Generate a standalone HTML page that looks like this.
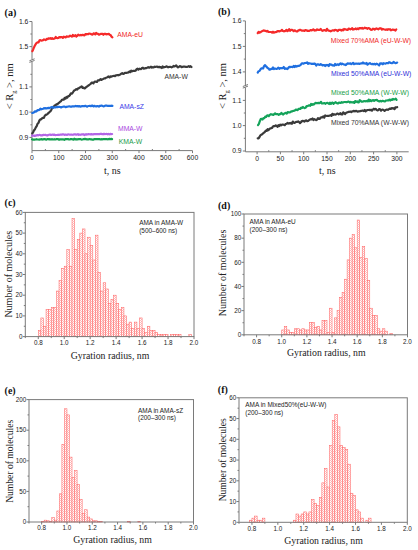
<!DOCTYPE html>
<html><head><meta charset="utf-8"><style>
html,body{margin:0;padding:0;background:#fff;width:418px;height:550px;overflow:hidden}
svg{display:block}
</style></head><body>
<svg width="418" height="550" viewBox="0 0 418 550">
<defs><pattern id="hp" patternUnits="userSpaceOnUse" width="2" height="2"><rect width="2" height="2" fill="#fff"/><rect width="1" height="1" fill="#fbb"/><rect x="1" y="1" width="1" height="1" fill="#fbb"/></pattern></defs>
<rect width="418" height="550" fill="#fff"/>
<text x="4.6" y="15.6" font-size="10" text-anchor="start" fill="#111" font-family='"Liberation Serif", serif' font-weight="bold" >(a)</text>
<line x1="32" y1="21.5" x2="32" y2="150.6" stroke="#7a7a7a" stroke-width="1.0"/>
<line x1="32" y1="150.6" x2="192.5" y2="150.6" stroke="#7a7a7a" stroke-width="1.0"/>
<rect x="29" y="59.4" width="6" height="2.4" fill="#fff"/>
<line x1="29.4" y1="60.8" x2="34.6" y2="58.8" stroke="#555" stroke-width="0.8"/>
<line x1="29.4" y1="62.4" x2="34.6" y2="60.4" stroke="#555" stroke-width="0.8"/>
<line x1="29.4" y1="21.5" x2="32" y2="21.5" stroke="#7a7a7a" stroke-width="1.0"/>
<text x="28.4" y="23.9" font-size="6.8" text-anchor="end" fill="#222" font-family='"Liberation Sans", sans-serif' font-weight="normal" >1.6</text>
<line x1="29.4" y1="46.6" x2="32" y2="46.6" stroke="#7a7a7a" stroke-width="1.0"/>
<text x="28.4" y="49" font-size="6.8" text-anchor="end" fill="#222" font-family='"Liberation Sans", sans-serif' font-weight="normal" >1.5</text>
<line x1="29.4" y1="86.9" x2="32" y2="86.9" stroke="#7a7a7a" stroke-width="1.0"/>
<text x="28.4" y="89.3" font-size="6.8" text-anchor="end" fill="#222" font-family='"Liberation Sans", sans-serif' font-weight="normal" >1.1</text>
<line x1="29.4" y1="112.1" x2="32" y2="112.1" stroke="#7a7a7a" stroke-width="1.0"/>
<text x="28.4" y="114.5" font-size="6.8" text-anchor="end" fill="#222" font-family='"Liberation Sans", sans-serif' font-weight="normal" >1.0</text>
<line x1="29.4" y1="137.4" x2="32" y2="137.4" stroke="#7a7a7a" stroke-width="1.0"/>
<text x="28.4" y="139.8" font-size="6.8" text-anchor="end" fill="#222" font-family='"Liberation Sans", sans-serif' font-weight="normal" >0.9</text>
<line x1="30.4" y1="34" x2="32" y2="34" stroke="#7a7a7a" stroke-width="1.0"/>
<line x1="30.4" y1="74.3" x2="32" y2="74.3" stroke="#7a7a7a" stroke-width="1.0"/>
<line x1="30.4" y1="99.5" x2="32" y2="99.5" stroke="#7a7a7a" stroke-width="1.0"/>
<line x1="30.4" y1="124.8" x2="32" y2="124.8" stroke="#7a7a7a" stroke-width="1.0"/>
<line x1="32" y1="150.6" x2="32" y2="153.1" stroke="#7a7a7a" stroke-width="1.0"/>
<text x="32" y="159.8" font-size="6.8" text-anchor="middle" fill="#222" font-family='"Liberation Sans", sans-serif' font-weight="normal" >0</text>
<line x1="58.75" y1="150.6" x2="58.75" y2="153.1" stroke="#7a7a7a" stroke-width="1.0"/>
<text x="58.75" y="159.8" font-size="6.8" text-anchor="middle" fill="#222" font-family='"Liberation Sans", sans-serif' font-weight="normal" >100</text>
<line x1="85.5" y1="150.6" x2="85.5" y2="153.1" stroke="#7a7a7a" stroke-width="1.0"/>
<text x="85.5" y="159.8" font-size="6.8" text-anchor="middle" fill="#222" font-family='"Liberation Sans", sans-serif' font-weight="normal" >200</text>
<line x1="112.25" y1="150.6" x2="112.25" y2="153.1" stroke="#7a7a7a" stroke-width="1.0"/>
<text x="112.25" y="159.8" font-size="6.8" text-anchor="middle" fill="#222" font-family='"Liberation Sans", sans-serif' font-weight="normal" >300</text>
<line x1="139" y1="150.6" x2="139" y2="153.1" stroke="#7a7a7a" stroke-width="1.0"/>
<text x="139" y="159.8" font-size="6.8" text-anchor="middle" fill="#222" font-family='"Liberation Sans", sans-serif' font-weight="normal" >400</text>
<line x1="165.75" y1="150.6" x2="165.75" y2="153.1" stroke="#7a7a7a" stroke-width="1.0"/>
<text x="165.75" y="159.8" font-size="6.8" text-anchor="middle" fill="#222" font-family='"Liberation Sans", sans-serif' font-weight="normal" >500</text>
<line x1="192.5" y1="150.6" x2="192.5" y2="153.1" stroke="#7a7a7a" stroke-width="1.0"/>
<text x="192.5" y="159.8" font-size="6.8" text-anchor="middle" fill="#222" font-family='"Liberation Sans", sans-serif' font-weight="normal" >600</text>
<line x1="45.38" y1="150.6" x2="45.38" y2="149" stroke="#7a7a7a" stroke-width="1.0"/>
<line x1="72.12" y1="150.6" x2="72.12" y2="149" stroke="#7a7a7a" stroke-width="1.0"/>
<line x1="98.88" y1="150.6" x2="98.88" y2="149" stroke="#7a7a7a" stroke-width="1.0"/>
<line x1="125.62" y1="150.6" x2="125.62" y2="149" stroke="#7a7a7a" stroke-width="1.0"/>
<line x1="152.38" y1="150.6" x2="152.38" y2="149" stroke="#7a7a7a" stroke-width="1.0"/>
<line x1="179.12" y1="150.6" x2="179.12" y2="149" stroke="#7a7a7a" stroke-width="1.0"/>
<text x="112.3" y="173.6" font-size="10" text-anchor="middle" fill="#222" font-family='"Liberation Serif", serif' font-weight="normal" >t, ns</text>
<text transform="translate(13.4,86.3) rotate(-90)" font-size="10.5" text-anchor="middle" fill="#222" font-family='"Liberation Serif", serif'>&lt; R<tspan font-size="6.5" dy="2.5">g</tspan><tspan dy="-2.5"> &gt;, nm</tspan></text>
<path d="M32.3,51.2 33.2,49.4 34.1,47.2 35.0,45.3 35.9,43.9 36.8,42.7 37.7,42.4 38.6,42.3 39.5,40.4 40.4,40.1 41.3,40.6 42.2,40.4 43.1,40.1 44.0,39.4 44.9,39.8 45.8,40.1 46.7,38.9 47.6,39.2 48.5,38.3 49.4,38.6 50.3,38.1 51.2,38.9 52.1,38.2 53.0,38.9 53.9,38.7 54.8,38.4 55.7,37.0 56.6,37.9 57.5,38.1 58.4,38.0 59.3,37.0 60.2,37.4 61.1,37.0 62.0,37.0 62.9,37.9 63.8,36.7 64.7,37.0 65.6,37.4 66.5,36.4 67.4,36.6 68.3,36.6 69.2,36.4 70.1,35.6 71.0,36.1 71.9,36.7 72.8,35.0 73.7,36.2 74.6,35.7 75.5,35.2 76.4,36.5 77.3,35.8 78.2,34.6 79.1,35.2 80.0,35.4 80.9,34.9 81.8,35.3 82.7,34.8 83.6,35.1 84.5,35.4 85.4,34.1 86.3,34.5 87.2,34.1 88.1,34.3 89.0,33.5 89.9,33.7 90.8,33.9 91.7,34.5 92.6,34.6 93.5,33.3 94.4,33.6 95.3,34.4 96.2,32.9 97.1,33.7 98.0,33.9 98.9,34.7 99.8,34.4 100.7,33.8 101.6,33.8 102.5,33.9 103.4,34.8 104.3,33.8 105.2,33.8 106.1,34.3 107.0,34.2 107.9,34.2 108.8,33.9 109.7,34.8 110.6,35.1 111.5,36.6 112.4,37.3" fill="none" stroke="#f52a2a" stroke-width="2.2" stroke-linejoin="round" stroke-linecap="round"/>
<path d="M32.2,133.5 33.1,132.3 34.0,130.3 34.9,129.4 35.8,127.4 36.7,126.1 37.6,123.7 38.5,122.9 39.4,120.5 40.3,119.3 41.2,119.3 42.1,118.2 43.0,117.8 43.9,117.9 44.8,115.7 45.7,114.9 46.6,114.6 47.5,114.1 48.4,113.1 49.3,112.3 50.2,111.5 51.1,110.3 52.0,108.4 52.9,107.7 53.8,106.6 54.7,105.4 55.6,105.4 56.5,104.2 57.4,104.4 58.3,103.3 59.2,102.6 60.1,101.7 61.0,101.3 61.9,99.8 62.8,99.6 63.7,99.7 64.6,98.0 65.5,98.7 66.4,97.0 67.3,97.5 68.2,96.2 69.1,96.2 70.0,95.0 70.9,93.3 71.8,93.7 72.7,92.8 73.6,91.3 74.5,90.3 75.4,89.9 76.3,89.1 77.2,89.6 78.1,88.4 79.0,88.1 79.9,87.4 80.8,87.0 81.7,86.4 82.6,87.9 83.5,87.6 84.4,88.4 85.3,88.1 86.2,87.1 87.1,86.5 88.0,85.8 88.9,85.3 89.8,84.5 90.7,83.8 91.6,82.7 92.5,82.6 93.4,83.4 94.3,82.0 95.2,81.5 96.1,81.8 97.0,81.9 97.9,80.3 98.8,80.5 99.7,80.0 100.6,79.1 101.5,79.9 102.4,79.3 103.3,79.0 104.2,78.3 105.1,78.5 106.0,77.7 106.9,77.5 107.8,76.8 108.7,76.4 109.6,77.4 110.5,76.4 111.4,76.6 112.3,76.3 113.2,76.0 114.1,75.8 115.0,76.1 115.9,75.4 116.8,75.2 117.7,75.1 118.6,75.3 119.5,74.8 120.4,74.4 121.3,73.7 122.2,73.1 123.1,73.9 124.0,73.6 124.9,72.9 125.8,72.9 126.7,72.8 127.6,72.6 128.5,72.4 129.4,71.5 130.3,72.1 131.2,70.6 132.1,71.3 133.0,70.9 133.9,70.8 134.8,71.0 135.7,70.6 136.6,69.2 137.5,68.7 138.4,69.6 139.3,68.7 140.2,69.0 141.1,69.2 142.0,68.0 142.9,67.7 143.8,68.6 144.7,68.4 145.6,68.1 146.5,68.1 147.4,67.6 148.3,67.2 149.2,67.7 150.1,67.2 151.0,66.7 151.9,67.6 152.8,67.2 153.7,67.4 154.6,66.7 155.5,66.9 156.4,66.7 157.3,66.7 158.2,67.2 159.1,66.8 160.0,67.3 160.9,67.2 161.8,68.0 162.7,66.4 163.6,67.4 164.5,67.0 165.4,67.0 166.3,66.3 167.2,66.8 168.1,67.3 169.0,66.9 169.9,67.0 170.8,66.8 171.7,67.4 172.6,66.9 173.5,65.9 174.4,66.5 175.3,66.0 176.2,65.4 177.1,66.6 178.0,67.4 178.9,66.8 179.8,66.2 180.7,66.3 181.6,67.2 182.5,66.8 183.4,66.7 184.3,66.6 185.2,66.7 186.1,67.0 187.0,66.8 187.9,66.7 188.8,66.1 189.7,66.8 190.6,66.2 191.5,67.0" fill="none" stroke="#3a3a3a" stroke-width="2.2" stroke-linejoin="round" stroke-linecap="round"/>
<path d="M32.3,113.0 33.2,112.8 34.1,112.3 35.0,111.3 35.9,111.6 36.8,111.0 37.7,110.0 38.6,110.2 39.5,109.8 40.4,108.7 41.3,109.3 42.2,109.0 43.1,108.8 44.0,108.2 44.9,108.3 45.8,108.2 46.7,108.5 47.6,108.1 48.5,107.9 49.4,108.2 50.3,107.5 51.2,107.4 52.1,106.9 53.0,107.8 53.9,107.5 54.8,107.4 55.7,107.3 56.6,107.1 57.5,107.1 58.4,106.9 59.3,106.9 60.2,107.0 61.1,107.4 62.0,107.0 62.9,106.8 63.8,106.6 64.7,106.6 65.6,107.2 66.5,106.8 67.4,106.7 68.3,106.5 69.2,106.3 70.1,106.5 71.0,106.8 71.9,106.4 72.8,106.4 73.7,106.4 74.6,106.4 75.5,105.9 76.4,106.3 77.3,106.0 78.2,106.5 79.1,106.0 80.0,106.4 80.9,106.6 81.8,106.1 82.7,106.0 83.6,106.2 84.5,106.1 85.4,105.8 86.3,106.3 87.2,106.7 88.1,106.0 89.0,106.0 89.9,105.8 90.8,106.2 91.7,105.7 92.6,105.7 93.5,106.4 94.4,105.8 95.3,106.3 96.2,106.5 97.1,106.1 98.0,106.1 98.9,106.6 99.8,105.9 100.7,105.8 101.6,105.5 102.5,105.9 103.4,106.4 104.3,106.2 105.2,105.6 106.1,105.6 107.0,105.7 107.9,105.9 108.8,105.8 109.7,105.9 110.6,105.9 111.5,105.7 112.4,105.8" fill="none" stroke="#1f6fe0" stroke-width="2.2" stroke-linejoin="round" stroke-linecap="round"/>
<path d="M32.0,135.6 32.9,135.5 33.8,135.6 34.7,135.9 35.6,135.6 36.5,135.4 37.4,135.0 38.3,135.4 39.2,134.9 40.1,135.0 41.0,135.4 41.9,135.4 42.8,135.1 43.7,134.8 44.6,135.0 45.5,134.9 46.4,135.2 47.3,135.5 48.2,135.0 49.1,134.8 50.0,134.6 50.9,134.9 51.8,134.8 52.7,134.6 53.6,134.9 54.5,134.6 55.4,135.1 56.3,135.0 57.2,135.0 58.1,134.7 59.0,134.9 59.9,134.7 60.8,134.7 61.7,134.7 62.6,134.4 63.5,134.4 64.4,134.9 65.3,134.6 66.2,134.7 67.1,134.9 68.0,134.3 68.9,134.5 69.8,134.7 70.7,134.7 71.6,134.5 72.5,134.8 73.4,134.6 74.3,134.3 75.2,134.3 76.1,134.7 77.0,134.6 77.9,134.1 78.8,134.8 79.7,134.6 80.6,134.8 81.5,134.4 82.4,134.4 83.3,134.2 84.2,135.0 85.1,134.4 86.0,134.7 86.9,134.2 87.8,134.4 88.7,134.0 89.6,134.2 90.5,134.5 91.4,134.0 92.3,134.5 93.2,134.4 94.1,134.0 95.0,134.1 95.9,134.1 96.8,134.2 97.7,134.1 98.6,134.0 99.5,134.1 100.4,133.9 101.3,133.9 102.2,134.1 103.1,134.3 104.0,133.8 104.9,134.1 105.8,134.0 106.7,133.9 107.6,134.3 108.5,133.9 109.4,134.4 110.3,133.9 111.2,134.1 112.1,134.0" fill="none" stroke="#b266e6" stroke-width="2.2" stroke-linejoin="round" stroke-linecap="round"/>
<path d="M32.0,139.3 32.9,139.6 33.8,139.5 34.7,139.6 35.6,139.5 36.5,139.2 37.4,139.5 38.3,139.5 39.2,139.7 40.1,139.3 41.0,139.5 41.9,139.1 42.8,139.6 43.7,139.2 44.6,139.1 45.5,139.4 46.4,139.7 47.3,139.1 48.2,139.2 49.1,139.3 50.0,139.2 50.9,139.5 51.8,139.2 52.7,139.3 53.6,139.5 54.5,139.2 55.4,139.5 56.3,139.2 57.2,139.1 58.1,139.0 59.0,139.8 59.9,139.3 60.8,139.4 61.7,139.4 62.6,139.4 63.5,139.4 64.4,139.8 65.3,139.1 66.2,139.0 67.1,139.1 68.0,139.1 68.9,139.5 69.8,139.5 70.7,139.1 71.6,139.0 72.5,139.3 73.4,139.7 74.3,138.7 75.2,139.5 76.1,139.1 77.0,139.6 77.9,139.1 78.8,139.3 79.7,139.0 80.6,139.1 81.5,139.6 82.4,139.5 83.3,139.2 84.2,139.1 85.1,138.9 86.0,139.2 86.9,139.3 87.8,139.3 88.7,139.3 89.6,139.0 90.5,139.3 91.4,139.3 92.3,139.6 93.2,139.7 94.1,139.2 95.0,139.1 95.9,139.2 96.8,139.1 97.7,139.1 98.6,139.2 99.5,139.0 100.4,139.4 101.3,139.2 102.2,139.3 103.1,139.2 104.0,139.1 104.9,139.0 105.8,139.2 106.7,139.1 107.6,139.3 108.5,139.2 109.4,138.9 110.3,139.2 111.2,138.9 112.1,139.1" fill="none" stroke="#14a050" stroke-width="2.2" stroke-linejoin="round" stroke-linecap="round"/>
<text x="117.3" y="36.6" font-size="6.8" text-anchor="start" fill="#f02828" font-family='"Liberation Sans", sans-serif' font-weight="normal" >AMA-eU</text>
<text x="164.4" y="78.9" font-size="6.8" text-anchor="start" fill="#333" font-family='"Liberation Sans", sans-serif' font-weight="normal" >AMA-W</text>
<text x="119.4" y="108.9" font-size="6.8" text-anchor="start" fill="#3a3ae8" font-family='"Liberation Sans", sans-serif' font-weight="normal" >AMA-sZ</text>
<text x="118" y="131.3" font-size="6.8" text-anchor="start" fill="#a848e0" font-family='"Liberation Sans", sans-serif' font-weight="normal" >MMA-W</text>
<text x="118.7" y="143.9" font-size="6.8" text-anchor="start" fill="#1a9a48" font-family='"Liberation Sans", sans-serif' font-weight="normal" >KMA-W</text>
<text x="218" y="15.2" font-size="10" text-anchor="start" fill="#111" font-family='"Liberation Serif", serif' font-weight="bold" >(b)</text>
<line x1="245.4" y1="20.9" x2="245.4" y2="151.8" stroke="#7a7a7a" stroke-width="1.0"/>
<line x1="245.4" y1="151.8" x2="408.7" y2="151.8" stroke="#7a7a7a" stroke-width="1.0"/>
<rect x="242.4" y="85.1" width="6" height="2.4" fill="#fff"/>
<line x1="242.8" y1="86.5" x2="248" y2="84.5" stroke="#555" stroke-width="0.8"/>
<line x1="242.8" y1="88.1" x2="248" y2="86.1" stroke="#555" stroke-width="0.8"/>
<line x1="242.8" y1="20.9" x2="245.4" y2="20.9" stroke="#7a7a7a" stroke-width="1.0"/>
<text x="241.6" y="23.3" font-size="6.8" text-anchor="end" fill="#222" font-family='"Liberation Sans", sans-serif' font-weight="normal" >1.6</text>
<line x1="242.8" y1="46.4" x2="245.4" y2="46.4" stroke="#7a7a7a" stroke-width="1.0"/>
<text x="241.6" y="48.8" font-size="6.8" text-anchor="end" fill="#222" font-family='"Liberation Sans", sans-serif' font-weight="normal" >1.5</text>
<line x1="242.8" y1="71.9" x2="245.4" y2="71.9" stroke="#7a7a7a" stroke-width="1.0"/>
<text x="241.6" y="74.3" font-size="6.8" text-anchor="end" fill="#222" font-family='"Liberation Sans", sans-serif' font-weight="normal" >1.4</text>
<line x1="242.8" y1="100.4" x2="245.4" y2="100.4" stroke="#7a7a7a" stroke-width="1.0"/>
<text x="241.6" y="102.8" font-size="6.8" text-anchor="end" fill="#222" font-family='"Liberation Sans", sans-serif' font-weight="normal" >1.1</text>
<line x1="242.8" y1="125.6" x2="245.4" y2="125.6" stroke="#7a7a7a" stroke-width="1.0"/>
<text x="241.6" y="128" font-size="6.8" text-anchor="end" fill="#222" font-family='"Liberation Sans", sans-serif' font-weight="normal" >1.0</text>
<line x1="242.8" y1="151" x2="245.4" y2="151" stroke="#7a7a7a" stroke-width="1.0"/>
<text x="241.6" y="153.4" font-size="6.8" text-anchor="end" fill="#222" font-family='"Liberation Sans", sans-serif' font-weight="normal" >0.9</text>
<line x1="243.8" y1="33.6" x2="245.4" y2="33.6" stroke="#7a7a7a" stroke-width="1.0"/>
<line x1="243.8" y1="59.1" x2="245.4" y2="59.1" stroke="#7a7a7a" stroke-width="1.0"/>
<line x1="243.8" y1="113" x2="245.4" y2="113" stroke="#7a7a7a" stroke-width="1.0"/>
<line x1="243.8" y1="138.3" x2="245.4" y2="138.3" stroke="#7a7a7a" stroke-width="1.0"/>
<line x1="257.1" y1="151.8" x2="257.1" y2="154.3" stroke="#7a7a7a" stroke-width="1.0"/>
<text x="257.1" y="160.9" font-size="6.8" text-anchor="middle" fill="#222" font-family='"Liberation Sans", sans-serif' font-weight="normal" >0</text>
<line x1="280.4" y1="151.8" x2="280.4" y2="154.3" stroke="#7a7a7a" stroke-width="1.0"/>
<text x="280.4" y="160.9" font-size="6.8" text-anchor="middle" fill="#222" font-family='"Liberation Sans", sans-serif' font-weight="normal" >50</text>
<line x1="303.7" y1="151.8" x2="303.7" y2="154.3" stroke="#7a7a7a" stroke-width="1.0"/>
<text x="303.7" y="160.9" font-size="6.8" text-anchor="middle" fill="#222" font-family='"Liberation Sans", sans-serif' font-weight="normal" >100</text>
<line x1="327" y1="151.8" x2="327" y2="154.3" stroke="#7a7a7a" stroke-width="1.0"/>
<text x="327" y="160.9" font-size="6.8" text-anchor="middle" fill="#222" font-family='"Liberation Sans", sans-serif' font-weight="normal" >150</text>
<line x1="350.3" y1="151.8" x2="350.3" y2="154.3" stroke="#7a7a7a" stroke-width="1.0"/>
<text x="350.3" y="160.9" font-size="6.8" text-anchor="middle" fill="#222" font-family='"Liberation Sans", sans-serif' font-weight="normal" >200</text>
<line x1="373.6" y1="151.8" x2="373.6" y2="154.3" stroke="#7a7a7a" stroke-width="1.0"/>
<text x="373.6" y="160.9" font-size="6.8" text-anchor="middle" fill="#222" font-family='"Liberation Sans", sans-serif' font-weight="normal" >250</text>
<line x1="396.9" y1="151.8" x2="396.9" y2="154.3" stroke="#7a7a7a" stroke-width="1.0"/>
<text x="396.9" y="160.9" font-size="6.8" text-anchor="middle" fill="#222" font-family='"Liberation Sans", sans-serif' font-weight="normal" >300</text>
<line x1="268.75" y1="151.8" x2="268.75" y2="150.2" stroke="#7a7a7a" stroke-width="1.0"/>
<line x1="292.05" y1="151.8" x2="292.05" y2="150.2" stroke="#7a7a7a" stroke-width="1.0"/>
<line x1="315.35" y1="151.8" x2="315.35" y2="150.2" stroke="#7a7a7a" stroke-width="1.0"/>
<line x1="338.65" y1="151.8" x2="338.65" y2="150.2" stroke="#7a7a7a" stroke-width="1.0"/>
<line x1="361.95" y1="151.8" x2="361.95" y2="150.2" stroke="#7a7a7a" stroke-width="1.0"/>
<line x1="385.25" y1="151.8" x2="385.25" y2="150.2" stroke="#7a7a7a" stroke-width="1.0"/>
<text x="327.3" y="174.4" font-size="10" text-anchor="middle" fill="#222" font-family='"Liberation Serif", serif' font-weight="normal" >t, ns</text>
<text transform="translate(226.3,86.0) rotate(-90)" font-size="10.5" text-anchor="middle" fill="#222" font-family='"Liberation Serif", serif'>&lt; R<tspan font-size="6.5" dy="2.5">g</tspan><tspan dy="-2.5"> &gt;, nm</tspan></text>
<path d="M257.7,33.2 258.6,31.8 259.5,32.6 260.4,32.3 261.3,31.7 262.2,31.1 263.1,30.7 264.0,30.4 264.9,30.9 265.8,30.9 266.7,31.5 267.6,30.9 268.5,31.9 269.4,32.0 270.3,32.0 271.2,32.0 272.1,32.7 273.0,31.7 273.9,32.6 274.8,32.3 275.7,32.1 276.6,31.9 277.5,31.1 278.4,31.1 279.3,31.4 280.2,31.0 281.1,30.8 282.0,29.9 282.9,31.0 283.8,31.3 284.7,31.2 285.6,30.8 286.5,29.8 287.4,31.1 288.3,30.5 289.2,29.2 290.1,30.8 291.0,29.8 291.9,29.9 292.8,30.2 293.7,31.2 294.6,30.3 295.5,30.7 296.4,31.5 297.3,31.4 298.2,30.4 299.1,30.3 300.0,29.8 300.9,30.1 301.8,30.7 302.7,30.6 303.6,30.5 304.5,30.9 305.4,30.0 306.3,30.3 307.2,30.8 308.1,30.7 309.0,30.9 309.9,30.5 310.8,30.1 311.7,30.5 312.6,29.7 313.5,29.4 314.4,30.6 315.3,30.2 316.2,30.4 317.1,29.3 318.0,30.0 318.9,29.9 319.8,29.8 320.7,29.0 321.6,30.1 322.5,30.8 323.4,30.5 324.3,30.0 325.2,30.3 326.1,30.8 327.0,28.8 327.9,30.3 328.8,30.7 329.7,30.8 330.6,31.3 331.5,30.9 332.4,30.4 333.3,30.3 334.2,30.6 335.1,29.8 336.0,30.0 336.9,30.5 337.8,31.0 338.7,29.8 339.6,29.8 340.5,29.9 341.4,30.5 342.3,29.7 343.2,30.4 344.1,29.0 345.0,29.4 345.9,29.4 346.8,29.9 347.7,30.0 348.6,28.5 349.5,28.8 350.4,29.4 351.3,28.8 352.2,28.2 353.1,29.6 354.0,29.2 354.9,29.1 355.8,28.5 356.7,29.3 357.6,28.5 358.5,29.2 359.4,28.0 360.3,28.0 361.2,28.5 362.1,27.9 363.0,28.6 363.9,28.3 364.8,27.6 365.7,28.2 366.6,28.1 367.5,28.8 368.4,28.0 369.3,28.2 370.2,29.2 371.1,29.8 372.0,29.7 372.9,28.7 373.8,28.9 374.7,29.6 375.6,28.8 376.5,28.4 377.4,29.0 378.3,29.3 379.2,28.6 380.1,28.2 381.0,28.4 381.9,29.6 382.8,28.9 383.7,29.3 384.6,29.5 385.5,29.8 386.4,29.4 387.3,29.9 388.2,29.2 389.1,29.5 390.0,29.2 390.9,30.4 391.8,29.9 392.7,29.5 393.6,29.8 394.5,29.9 395.4,30.5 396.3,29.3" fill="none" stroke="#f52a2a" stroke-width="2.2" stroke-linejoin="round" stroke-linecap="round"/>
<path d="M257.7,72.6 258.6,71.2 259.5,71.0 260.4,69.5 261.3,68.4 262.2,68.3 263.1,68.5 264.0,66.2 264.9,65.1 265.8,66.1 266.7,66.9 267.6,68.2 268.5,68.3 269.4,69.7 270.3,69.5 271.2,68.9 272.1,69.0 273.0,67.5 273.9,69.0 274.8,68.5 275.7,68.8 276.6,69.0 277.5,68.4 278.4,67.7 279.3,68.8 280.2,68.1 281.1,68.3 282.0,68.1 282.9,68.1 283.8,67.0 284.7,68.9 285.6,68.3 286.5,68.7 287.4,69.1 288.3,68.0 289.2,66.8 290.1,67.2 291.0,66.8 291.9,67.0 292.8,67.2 293.7,65.9 294.6,67.0 295.5,65.8 296.4,66.6 297.3,66.2 298.2,65.9 299.1,65.9 300.0,65.3 300.9,64.6 301.8,63.3 302.7,63.4 303.6,63.7 304.5,63.1 305.4,63.0 306.3,62.9 307.2,62.4 308.1,63.8 309.0,63.2 309.9,63.4 310.8,63.5 311.7,63.9 312.6,63.7 313.5,64.0 314.4,63.5 315.3,64.0 316.2,65.5 317.1,64.3 318.0,64.3 318.9,64.8 319.8,65.0 320.7,64.1 321.6,64.7 322.5,65.4 323.4,65.1 324.3,65.1 325.2,66.0 326.1,64.9 327.0,65.3 327.9,64.9 328.8,66.0 329.7,64.1 330.6,64.7 331.5,64.7 332.4,65.4 333.3,65.3 334.2,65.7 335.1,64.0 336.0,65.2 336.9,64.6 337.8,64.3 338.7,65.0 339.6,64.1 340.5,63.4 341.4,64.3 342.3,63.6 343.2,64.1 344.1,64.6 345.0,64.5 345.9,65.1 346.8,64.1 347.7,63.3 348.6,63.7 349.5,63.6 350.4,63.4 351.3,64.2 352.2,63.6 353.1,62.8 354.0,64.2 354.9,63.6 355.8,63.8 356.7,63.6 357.6,63.8 358.5,63.5 359.4,64.0 360.3,63.5 361.2,63.4 362.1,63.5 363.0,62.5 363.9,63.4 364.8,63.4 365.7,63.7 366.6,63.0 367.5,64.7 368.4,64.0 369.3,63.3 370.2,63.2 371.1,64.0 372.0,64.2 372.9,63.9 373.8,64.3 374.7,63.8 375.6,64.5 376.5,63.7 377.4,64.1 378.3,64.6 379.2,65.4 380.1,63.4 381.0,63.7 381.9,63.4 382.8,64.3 383.7,63.2 384.6,63.5 385.5,63.7 386.4,63.1 387.3,63.0 388.2,63.2 389.1,62.2 390.0,62.5 390.9,63.0 391.8,63.2 392.7,62.9 393.6,62.0 394.5,62.6 395.4,63.2 396.3,63.0 397.2,62.6" fill="none" stroke="#1f6fe0" stroke-width="2.2" stroke-linejoin="round" stroke-linecap="round"/>
<path d="M258.0,125.1 258.9,123.9 259.8,121.2 260.7,119.1 261.6,118.8 262.5,119.5 263.4,118.2 264.3,118.2 265.2,116.7 266.1,117.0 267.0,115.6 267.9,115.3 268.8,116.2 269.7,115.0 270.6,114.2 271.5,114.4 272.4,114.6 273.3,115.0 274.2,114.1 275.1,113.3 276.0,114.1 276.9,114.2 277.8,114.2 278.7,114.8 279.6,114.1 280.5,114.2 281.4,113.0 282.3,113.9 283.2,114.5 284.1,113.6 285.0,113.1 285.9,112.9 286.8,113.6 287.7,112.0 288.6,112.3 289.5,112.3 290.4,112.2 291.3,111.3 292.2,111.4 293.1,110.8 294.0,110.8 294.9,110.4 295.8,109.6 296.7,109.9 297.6,110.1 298.5,108.8 299.4,108.8 300.3,109.0 301.2,107.7 302.1,108.0 303.0,107.0 303.9,107.8 304.8,108.1 305.7,107.6 306.6,106.0 307.5,106.2 308.4,105.6 309.3,105.3 310.2,105.8 311.1,103.9 312.0,104.9 312.9,104.1 313.8,104.6 314.7,103.6 315.6,102.9 316.5,103.1 317.4,103.2 318.3,102.9 319.2,103.2 320.1,102.7 321.0,101.8 321.9,103.5 322.8,103.5 323.7,103.2 324.6,103.2 325.5,103.8 326.4,103.0 327.3,102.9 328.2,103.2 329.1,104.0 330.0,102.6 330.9,103.9 331.8,102.9 332.7,102.6 333.6,103.8 334.5,103.0 335.4,102.2 336.3,102.7 337.2,103.3 338.1,103.4 339.0,102.5 339.9,102.8 340.8,102.9 341.7,102.1 342.6,102.6 343.5,102.3 344.4,102.0 345.3,102.0 346.2,102.2 347.1,102.1 348.0,101.7 348.9,101.7 349.8,102.5 350.7,101.9 351.6,102.3 352.5,102.4 353.4,102.0 354.3,102.9 355.2,101.1 356.1,102.0 357.0,101.3 357.9,102.4 358.8,102.3 359.7,100.2 360.6,100.7 361.5,101.6 362.4,101.6 363.3,101.5 364.2,101.0 365.1,101.2 366.0,101.3 366.9,100.9 367.8,101.4 368.7,99.6 369.6,101.1 370.5,100.1 371.4,101.2 372.3,100.5 373.2,100.1 374.1,100.9 375.0,100.2 375.9,100.2 376.8,99.9 377.7,100.8 378.6,101.1 379.5,101.4 380.4,100.8 381.3,101.5 382.2,100.9 383.1,100.9 384.0,101.3 384.9,101.5 385.8,100.6 386.7,100.5 387.6,100.4 388.5,100.3 389.4,99.6 390.3,100.5 391.2,99.6 392.1,99.9 393.0,99.0 393.9,99.5 394.8,99.3 395.7,98.7 396.6,99.9" fill="none" stroke="#14a35a" stroke-width="2.2" stroke-linejoin="round" stroke-linecap="round"/>
<path d="M257.7,138.3 258.6,138.3 259.5,137.0 260.4,135.3 261.3,134.7 262.2,134.3 263.1,133.3 264.0,132.7 264.9,131.9 265.8,130.6 266.7,130.9 267.6,129.2 268.5,130.1 269.4,129.0 270.3,128.4 271.2,128.2 272.1,127.9 273.0,126.4 273.9,126.0 274.8,126.2 275.7,125.4 276.6,125.8 277.5,126.9 278.4,125.2 279.3,126.0 280.2,124.6 281.1,125.3 282.0,124.7 282.9,124.6 283.8,124.8 284.7,125.2 285.6,124.1 286.5,123.8 287.4,123.0 288.3,123.6 289.2,123.1 290.1,123.5 291.0,122.9 291.9,123.8 292.8,121.6 293.7,122.5 294.6,123.0 295.5,122.2 296.4,121.8 297.3,122.0 298.2,121.3 299.1,122.0 300.0,123.2 300.9,122.3 301.8,121.0 302.7,120.9 303.6,121.1 304.5,121.7 305.4,120.5 306.3,120.4 307.2,121.2 308.1,121.0 309.0,120.2 309.9,119.6 310.8,119.2 311.7,119.5 312.6,118.5 313.5,120.0 314.4,119.1 315.3,119.6 316.2,120.2 317.1,119.6 318.0,118.1 318.9,118.9 319.8,118.8 320.7,117.5 321.6,117.2 322.5,117.4 323.4,116.3 324.3,117.7 325.2,115.4 326.1,115.8 327.0,116.0 327.9,115.8 328.8,115.8 329.7,115.6 330.6,115.2 331.5,115.8 332.4,113.8 333.3,114.8 334.2,114.3 335.1,114.6 336.0,114.5 336.9,113.7 337.8,113.7 338.7,114.3 339.6,113.9 340.5,113.2 341.4,114.5 342.3,114.5 343.2,112.3 344.1,113.1 345.0,114.1 345.9,113.0 346.8,112.6 347.7,112.2 348.6,111.8 349.5,111.8 350.4,111.5 351.3,112.1 352.2,111.4 353.1,111.3 354.0,110.8 354.9,111.4 355.8,110.8 356.7,111.1 357.6,111.7 358.5,111.3 359.4,111.3 360.3,111.1 361.2,110.9 362.1,110.7 363.0,110.6 363.9,111.1 364.8,110.0 365.7,111.3 366.6,110.5 367.5,110.0 368.4,110.0 369.3,109.9 370.2,110.2 371.1,109.7 372.0,110.6 372.9,109.5 373.8,108.7 374.7,109.5 375.6,108.8 376.5,109.8 377.4,110.4 378.3,110.1 379.2,109.0 380.1,109.3 381.0,110.7 381.9,109.8 382.8,109.6 383.7,110.2 384.6,110.9 385.5,110.2 386.4,109.6 387.3,109.7 388.2,109.8 389.1,109.0 390.0,108.6 390.9,108.9 391.8,108.1 392.7,108.4 393.6,108.2 394.5,109.2 395.4,107.3 396.3,107.4 397.2,107.2" fill="none" stroke="#3a3a3a" stroke-width="2.2" stroke-linejoin="round" stroke-linecap="round"/>
<text x="330.8" y="43.4" font-size="6.8" text-anchor="start" fill="#f02828" font-family='"Liberation Sans", sans-serif' font-weight="normal" >Mixed 70%AMA (eU-W-W)</text>
<text x="331" y="75.9" font-size="6.8" text-anchor="start" fill="#3030d8" font-family='"Liberation Sans", sans-serif' font-weight="normal" >Mixed 50%AMA (eU-W-W)</text>
<text x="331" y="95" font-size="6.8" text-anchor="start" fill="#18a048" font-family='"Liberation Sans", sans-serif' font-weight="normal" >Mixed 50%AMA (W-W-W)</text>
<text x="331" y="124.5" font-size="6.8" text-anchor="start" fill="#333" font-family='"Liberation Sans", sans-serif' font-weight="normal" >Mixed 70%AMA (W-W-W)</text>
<rect x="38.28" y="330.39" width="2.6" height="6.21" fill="url(#hp)" stroke="#f66" stroke-width="0.55"/>
<rect x="40.87" y="317.97" width="2.6" height="18.63" fill="url(#hp)" stroke="#f66" stroke-width="0.55"/>
<rect x="43.47" y="326.25" width="2.6" height="10.35" fill="url(#hp)" stroke="#f66" stroke-width="0.55"/>
<rect x="46.06" y="309.69" width="2.6" height="26.91" fill="url(#hp)" stroke="#f66" stroke-width="0.55"/>
<rect x="48.66" y="309.69" width="2.6" height="26.91" fill="url(#hp)" stroke="#f66" stroke-width="0.55"/>
<rect x="51.25" y="307.62" width="2.6" height="28.98" fill="url(#hp)" stroke="#f66" stroke-width="0.55"/>
<rect x="53.85" y="307.62" width="2.6" height="28.98" fill="url(#hp)" stroke="#f66" stroke-width="0.55"/>
<rect x="56.44" y="291.06" width="2.6" height="45.54" fill="url(#hp)" stroke="#f66" stroke-width="0.55"/>
<rect x="59.04" y="280.71" width="2.6" height="55.89" fill="url(#hp)" stroke="#f66" stroke-width="0.55"/>
<rect x="61.64" y="268.29" width="2.6" height="68.31" fill="url(#hp)" stroke="#f66" stroke-width="0.55"/>
<rect x="64.23" y="266.22" width="2.6" height="70.38" fill="url(#hp)" stroke="#f66" stroke-width="0.55"/>
<rect x="66.83" y="249.66" width="2.6" height="86.94" fill="url(#hp)" stroke="#f66" stroke-width="0.55"/>
<rect x="69.42" y="266.22" width="2.6" height="70.38" fill="url(#hp)" stroke="#f66" stroke-width="0.55"/>
<rect x="72.02" y="218.61" width="2.6" height="117.99" fill="url(#hp)" stroke="#f66" stroke-width="0.55"/>
<rect x="74.61" y="249.66" width="2.6" height="86.94" fill="url(#hp)" stroke="#f66" stroke-width="0.55"/>
<rect x="77.21" y="239.31" width="2.6" height="97.29" fill="url(#hp)" stroke="#f66" stroke-width="0.55"/>
<rect x="79.8" y="233.1" width="2.6" height="103.5" fill="url(#hp)" stroke="#f66" stroke-width="0.55"/>
<rect x="82.4" y="228.96" width="2.6" height="107.64" fill="url(#hp)" stroke="#f66" stroke-width="0.55"/>
<rect x="84.99" y="253.8" width="2.6" height="82.8" fill="url(#hp)" stroke="#f66" stroke-width="0.55"/>
<rect x="87.59" y="237.24" width="2.6" height="99.36" fill="url(#hp)" stroke="#f66" stroke-width="0.55"/>
<rect x="90.18" y="245.52" width="2.6" height="91.08" fill="url(#hp)" stroke="#f66" stroke-width="0.55"/>
<rect x="92.78" y="260.01" width="2.6" height="76.59" fill="url(#hp)" stroke="#f66" stroke-width="0.55"/>
<rect x="95.38" y="235.17" width="2.6" height="101.43" fill="url(#hp)" stroke="#f66" stroke-width="0.55"/>
<rect x="97.97" y="272.43" width="2.6" height="64.17" fill="url(#hp)" stroke="#f66" stroke-width="0.55"/>
<rect x="100.57" y="291.06" width="2.6" height="45.54" fill="url(#hp)" stroke="#f66" stroke-width="0.55"/>
<rect x="103.16" y="282.78" width="2.6" height="53.82" fill="url(#hp)" stroke="#f66" stroke-width="0.55"/>
<rect x="105.76" y="288.99" width="2.6" height="47.61" fill="url(#hp)" stroke="#f66" stroke-width="0.55"/>
<rect x="108.35" y="303.48" width="2.6" height="33.12" fill="url(#hp)" stroke="#f66" stroke-width="0.55"/>
<rect x="110.95" y="299.34" width="2.6" height="37.26" fill="url(#hp)" stroke="#f66" stroke-width="0.55"/>
<rect x="113.54" y="295.2" width="2.6" height="41.4" fill="url(#hp)" stroke="#f66" stroke-width="0.55"/>
<rect x="116.14" y="303.48" width="2.6" height="33.12" fill="url(#hp)" stroke="#f66" stroke-width="0.55"/>
<rect x="118.73" y="309.69" width="2.6" height="26.91" fill="url(#hp)" stroke="#f66" stroke-width="0.55"/>
<rect x="121.33" y="307.62" width="2.6" height="28.98" fill="url(#hp)" stroke="#f66" stroke-width="0.55"/>
<rect x="123.92" y="315.9" width="2.6" height="20.7" fill="url(#hp)" stroke="#f66" stroke-width="0.55"/>
<rect x="126.52" y="324.18" width="2.6" height="12.42" fill="url(#hp)" stroke="#f66" stroke-width="0.55"/>
<rect x="129.12" y="322.11" width="2.6" height="14.49" fill="url(#hp)" stroke="#f66" stroke-width="0.55"/>
<rect x="131.71" y="328.32" width="2.6" height="8.28" fill="url(#hp)" stroke="#f66" stroke-width="0.55"/>
<rect x="134.31" y="322.11" width="2.6" height="14.49" fill="url(#hp)" stroke="#f66" stroke-width="0.55"/>
<rect x="136.9" y="328.32" width="2.6" height="8.28" fill="url(#hp)" stroke="#f66" stroke-width="0.55"/>
<rect x="139.5" y="317.97" width="2.6" height="18.63" fill="url(#hp)" stroke="#f66" stroke-width="0.55"/>
<rect x="142.09" y="328.32" width="2.6" height="8.28" fill="url(#hp)" stroke="#f66" stroke-width="0.55"/>
<rect x="144.69" y="332.46" width="2.6" height="4.14" fill="url(#hp)" stroke="#f66" stroke-width="0.55"/>
<rect x="147.28" y="326.25" width="2.6" height="10.35" fill="url(#hp)" stroke="#f66" stroke-width="0.55"/>
<rect x="149.88" y="330.39" width="2.6" height="6.21" fill="url(#hp)" stroke="#f66" stroke-width="0.55"/>
<rect x="152.47" y="330.39" width="2.6" height="6.21" fill="url(#hp)" stroke="#f66" stroke-width="0.55"/>
<rect x="155.07" y="332.46" width="2.6" height="4.14" fill="url(#hp)" stroke="#f66" stroke-width="0.55"/>
<rect x="157.66" y="334.53" width="2.6" height="2.07" fill="url(#hp)" stroke="#f66" stroke-width="0.55"/>
<rect x="160.26" y="334.53" width="2.6" height="2.07" fill="url(#hp)" stroke="#f66" stroke-width="0.55"/>
<rect x="162.86" y="334.53" width="2.6" height="2.07" fill="url(#hp)" stroke="#f66" stroke-width="0.55"/>
<rect x="165.45" y="334.53" width="2.6" height="2.07" fill="url(#hp)" stroke="#f66" stroke-width="0.55"/>
<rect x="170.64" y="334.53" width="2.6" height="2.07" fill="url(#hp)" stroke="#f66" stroke-width="0.55"/>
<rect x="173.24" y="334.53" width="2.6" height="2.07" fill="url(#hp)" stroke="#f66" stroke-width="0.55"/>
<rect x="175.83" y="334.53" width="2.6" height="2.07" fill="url(#hp)" stroke="#f66" stroke-width="0.55"/>
<rect x="178.43" y="334.53" width="2.6" height="2.07" fill="url(#hp)" stroke="#f66" stroke-width="0.55"/>
<rect x="188.81" y="334.53" width="2.6" height="2.07" fill="url(#hp)" stroke="#f66" stroke-width="0.55"/>
<rect x="25.3" y="212.4" width="168.7" height="124.2" fill="none" stroke="#7a7a7a" stroke-width="1"/>
<line x1="22.8" y1="336.6" x2="25.3" y2="336.6" stroke="#7a7a7a" stroke-width="1.0"/>
<text x="22.5" y="338.8" font-size="6.3" text-anchor="end" fill="#222" font-family='"Liberation Sans", sans-serif' font-weight="normal" >0</text>
<line x1="23.8" y1="326.25" x2="25.3" y2="326.25" stroke="#7a7a7a" stroke-width="1.0"/>
<line x1="22.8" y1="315.9" x2="25.3" y2="315.9" stroke="#7a7a7a" stroke-width="1.0"/>
<text x="22.5" y="318.1" font-size="6.3" text-anchor="end" fill="#222" font-family='"Liberation Sans", sans-serif' font-weight="normal" >10</text>
<line x1="23.8" y1="305.55" x2="25.3" y2="305.55" stroke="#7a7a7a" stroke-width="1.0"/>
<line x1="22.8" y1="295.2" x2="25.3" y2="295.2" stroke="#7a7a7a" stroke-width="1.0"/>
<text x="22.5" y="297.4" font-size="6.3" text-anchor="end" fill="#222" font-family='"Liberation Sans", sans-serif' font-weight="normal" >20</text>
<line x1="23.8" y1="284.85" x2="25.3" y2="284.85" stroke="#7a7a7a" stroke-width="1.0"/>
<line x1="22.8" y1="274.5" x2="25.3" y2="274.5" stroke="#7a7a7a" stroke-width="1.0"/>
<text x="22.5" y="276.7" font-size="6.3" text-anchor="end" fill="#222" font-family='"Liberation Sans", sans-serif' font-weight="normal" >30</text>
<line x1="23.8" y1="264.15" x2="25.3" y2="264.15" stroke="#7a7a7a" stroke-width="1.0"/>
<line x1="22.8" y1="253.8" x2="25.3" y2="253.8" stroke="#7a7a7a" stroke-width="1.0"/>
<text x="22.5" y="256" font-size="6.3" text-anchor="end" fill="#222" font-family='"Liberation Sans", sans-serif' font-weight="normal" >40</text>
<line x1="23.8" y1="243.45" x2="25.3" y2="243.45" stroke="#7a7a7a" stroke-width="1.0"/>
<line x1="22.8" y1="233.1" x2="25.3" y2="233.1" stroke="#7a7a7a" stroke-width="1.0"/>
<text x="22.5" y="235.3" font-size="6.3" text-anchor="end" fill="#222" font-family='"Liberation Sans", sans-serif' font-weight="normal" >50</text>
<line x1="23.8" y1="222.75" x2="25.3" y2="222.75" stroke="#7a7a7a" stroke-width="1.0"/>
<line x1="22.8" y1="212.4" x2="25.3" y2="212.4" stroke="#7a7a7a" stroke-width="1.0"/>
<text x="22.5" y="214.6" font-size="6.3" text-anchor="end" fill="#222" font-family='"Liberation Sans", sans-serif' font-weight="normal" >60</text>
<line x1="38.28" y1="336.6" x2="38.28" y2="339.1" stroke="#7a7a7a" stroke-width="1.0"/>
<text x="38.28" y="344.8" font-size="6.3" text-anchor="middle" fill="#222" font-family='"Liberation Sans", sans-serif' font-weight="normal" >0.8</text>
<line x1="64.23" y1="336.6" x2="64.23" y2="339.1" stroke="#7a7a7a" stroke-width="1.0"/>
<text x="64.23" y="344.8" font-size="6.3" text-anchor="middle" fill="#222" font-family='"Liberation Sans", sans-serif' font-weight="normal" >1.0</text>
<line x1="90.18" y1="336.6" x2="90.18" y2="339.1" stroke="#7a7a7a" stroke-width="1.0"/>
<text x="90.18" y="344.8" font-size="6.3" text-anchor="middle" fill="#222" font-family='"Liberation Sans", sans-serif' font-weight="normal" >1.2</text>
<line x1="116.14" y1="336.6" x2="116.14" y2="339.1" stroke="#7a7a7a" stroke-width="1.0"/>
<text x="116.14" y="344.8" font-size="6.3" text-anchor="middle" fill="#222" font-family='"Liberation Sans", sans-serif' font-weight="normal" >1.4</text>
<line x1="142.09" y1="336.6" x2="142.09" y2="339.1" stroke="#7a7a7a" stroke-width="1.0"/>
<text x="142.09" y="344.8" font-size="6.3" text-anchor="middle" fill="#222" font-family='"Liberation Sans", sans-serif' font-weight="normal" >1.6</text>
<line x1="168.05" y1="336.6" x2="168.05" y2="339.1" stroke="#7a7a7a" stroke-width="1.0"/>
<text x="168.05" y="344.8" font-size="6.3" text-anchor="middle" fill="#222" font-family='"Liberation Sans", sans-serif' font-weight="normal" >1.8</text>
<line x1="194" y1="336.6" x2="194" y2="339.1" stroke="#7a7a7a" stroke-width="1.0"/>
<text x="194" y="344.8" font-size="6.3" text-anchor="middle" fill="#222" font-family='"Liberation Sans", sans-serif' font-weight="normal" >2.0</text>
<line x1="25.3" y1="336.6" x2="25.3" y2="338.1" stroke="#7a7a7a" stroke-width="1.0"/>
<line x1="51.25" y1="336.6" x2="51.25" y2="338.1" stroke="#7a7a7a" stroke-width="1.0"/>
<line x1="77.21" y1="336.6" x2="77.21" y2="338.1" stroke="#7a7a7a" stroke-width="1.0"/>
<line x1="103.16" y1="336.6" x2="103.16" y2="338.1" stroke="#7a7a7a" stroke-width="1.0"/>
<line x1="129.12" y1="336.6" x2="129.12" y2="338.1" stroke="#7a7a7a" stroke-width="1.0"/>
<line x1="155.07" y1="336.6" x2="155.07" y2="338.1" stroke="#7a7a7a" stroke-width="1.0"/>
<line x1="181.02" y1="336.6" x2="181.02" y2="338.1" stroke="#7a7a7a" stroke-width="1.0"/>
<text x="4.6" y="206.2" font-size="10" text-anchor="start" fill="#111" font-family='"Liberation Serif", serif' font-weight="bold" >(c)</text>
<text x="139.2" y="224.9" font-size="6.45" text-anchor="start" fill="#222" font-family='"Liberation Sans", sans-serif' font-weight="normal" >AMA in AMA-W</text>
<text x="139.2" y="232.9" font-size="6.45" text-anchor="start" fill="#222" font-family='"Liberation Sans", sans-serif' font-weight="normal" >(500–600 ns)</text>
<text x="110" y="358.5" font-size="9.8" text-anchor="middle" fill="#222" font-family='"Liberation Serif", serif' font-weight="normal" >Gyration radius, nm</text>
<text transform="translate(12,274.3) rotate(-90)" font-size="10" text-anchor="middle" fill="#222" font-family='"Liberation Serif", serif'>Number of molecules</text>
<rect x="281.73" y="329.97" width="2.52" height="4.83" fill="url(#hp)" stroke="#f66" stroke-width="0.55"/>
<rect x="284.25" y="326.34" width="2.52" height="8.46" fill="url(#hp)" stroke="#f66" stroke-width="0.55"/>
<rect x="286.76" y="329.97" width="2.52" height="4.83" fill="url(#hp)" stroke="#f66" stroke-width="0.55"/>
<rect x="289.28" y="332.38" width="2.52" height="2.42" fill="url(#hp)" stroke="#f66" stroke-width="0.55"/>
<rect x="291.79" y="332.38" width="2.52" height="2.42" fill="url(#hp)" stroke="#f66" stroke-width="0.55"/>
<rect x="294.31" y="328.76" width="2.52" height="6.04" fill="url(#hp)" stroke="#f66" stroke-width="0.55"/>
<rect x="296.82" y="328.76" width="2.52" height="6.04" fill="url(#hp)" stroke="#f66" stroke-width="0.55"/>
<rect x="299.34" y="329.97" width="2.52" height="4.83" fill="url(#hp)" stroke="#f66" stroke-width="0.55"/>
<rect x="301.85" y="328.76" width="2.52" height="6.04" fill="url(#hp)" stroke="#f66" stroke-width="0.55"/>
<rect x="304.37" y="329.97" width="2.52" height="4.83" fill="url(#hp)" stroke="#f66" stroke-width="0.55"/>
<rect x="306.88" y="329.97" width="2.52" height="4.83" fill="url(#hp)" stroke="#f66" stroke-width="0.55"/>
<rect x="309.4" y="322.72" width="2.52" height="12.08" fill="url(#hp)" stroke="#f66" stroke-width="0.55"/>
<rect x="311.92" y="322.72" width="2.52" height="12.08" fill="url(#hp)" stroke="#f66" stroke-width="0.55"/>
<rect x="314.43" y="327.55" width="2.52" height="7.25" fill="url(#hp)" stroke="#f66" stroke-width="0.55"/>
<rect x="316.95" y="326.34" width="2.52" height="8.46" fill="url(#hp)" stroke="#f66" stroke-width="0.55"/>
<rect x="319.46" y="329.97" width="2.52" height="4.83" fill="url(#hp)" stroke="#f66" stroke-width="0.55"/>
<rect x="321.98" y="320.3" width="2.52" height="14.5" fill="url(#hp)" stroke="#f66" stroke-width="0.55"/>
<rect x="324.49" y="320.3" width="2.52" height="14.5" fill="url(#hp)" stroke="#f66" stroke-width="0.55"/>
<rect x="327.01" y="332.38" width="2.52" height="2.42" fill="url(#hp)" stroke="#f66" stroke-width="0.55"/>
<rect x="329.52" y="308.22" width="2.52" height="26.58" fill="url(#hp)" stroke="#f66" stroke-width="0.55"/>
<rect x="332.04" y="332.38" width="2.52" height="2.42" fill="url(#hp)" stroke="#f66" stroke-width="0.55"/>
<rect x="334.55" y="317.89" width="2.52" height="16.91" fill="url(#hp)" stroke="#f66" stroke-width="0.55"/>
<rect x="337.07" y="310.64" width="2.52" height="24.16" fill="url(#hp)" stroke="#f66" stroke-width="0.55"/>
<rect x="339.58" y="297.35" width="2.52" height="37.45" fill="url(#hp)" stroke="#f66" stroke-width="0.55"/>
<rect x="342.1" y="292.52" width="2.52" height="42.28" fill="url(#hp)" stroke="#f66" stroke-width="0.55"/>
<rect x="344.62" y="279.23" width="2.52" height="55.57" fill="url(#hp)" stroke="#f66" stroke-width="0.55"/>
<rect x="347.13" y="259.9" width="2.52" height="74.9" fill="url(#hp)" stroke="#f66" stroke-width="0.55"/>
<rect x="349.65" y="238.16" width="2.52" height="96.64" fill="url(#hp)" stroke="#f66" stroke-width="0.55"/>
<rect x="352.16" y="234.54" width="2.52" height="100.26" fill="url(#hp)" stroke="#f66" stroke-width="0.55"/>
<rect x="354.68" y="247.82" width="2.52" height="86.98" fill="url(#hp)" stroke="#f66" stroke-width="0.55"/>
<rect x="357.19" y="220.04" width="2.52" height="114.76" fill="url(#hp)" stroke="#f66" stroke-width="0.55"/>
<rect x="359.71" y="257.49" width="2.52" height="77.31" fill="url(#hp)" stroke="#f66" stroke-width="0.55"/>
<rect x="362.22" y="246.62" width="2.52" height="88.18" fill="url(#hp)" stroke="#f66" stroke-width="0.55"/>
<rect x="364.74" y="258.7" width="2.52" height="76.1" fill="url(#hp)" stroke="#f66" stroke-width="0.55"/>
<rect x="367.25" y="280.44" width="2.52" height="54.36" fill="url(#hp)" stroke="#f66" stroke-width="0.55"/>
<rect x="369.77" y="308.22" width="2.52" height="26.58" fill="url(#hp)" stroke="#f66" stroke-width="0.55"/>
<rect x="372.28" y="315.47" width="2.52" height="19.33" fill="url(#hp)" stroke="#f66" stroke-width="0.55"/>
<rect x="374.8" y="315.47" width="2.52" height="19.33" fill="url(#hp)" stroke="#f66" stroke-width="0.55"/>
<rect x="377.32" y="328.76" width="2.52" height="6.04" fill="url(#hp)" stroke="#f66" stroke-width="0.55"/>
<rect x="379.83" y="331.18" width="2.52" height="3.62" fill="url(#hp)" stroke="#f66" stroke-width="0.55"/>
<rect x="382.35" y="328.76" width="2.52" height="6.04" fill="url(#hp)" stroke="#f66" stroke-width="0.55"/>
<rect x="384.86" y="331.18" width="2.52" height="3.62" fill="url(#hp)" stroke="#f66" stroke-width="0.55"/>
<rect x="389.89" y="333.59" width="2.52" height="1.21" fill="url(#hp)" stroke="#f66" stroke-width="0.55"/>
<rect x="244" y="214" width="163.5" height="120.8" fill="none" stroke="#7a7a7a" stroke-width="1"/>
<line x1="241.5" y1="334.8" x2="244" y2="334.8" stroke="#7a7a7a" stroke-width="1.0"/>
<text x="241.2" y="337" font-size="6.3" text-anchor="end" fill="#222" font-family='"Liberation Sans", sans-serif' font-weight="normal" >0</text>
<line x1="242.5" y1="322.72" x2="244" y2="322.72" stroke="#7a7a7a" stroke-width="1.0"/>
<line x1="241.5" y1="310.64" x2="244" y2="310.64" stroke="#7a7a7a" stroke-width="1.0"/>
<text x="241.2" y="312.84" font-size="6.3" text-anchor="end" fill="#222" font-family='"Liberation Sans", sans-serif' font-weight="normal" >20</text>
<line x1="242.5" y1="298.56" x2="244" y2="298.56" stroke="#7a7a7a" stroke-width="1.0"/>
<line x1="241.5" y1="286.48" x2="244" y2="286.48" stroke="#7a7a7a" stroke-width="1.0"/>
<text x="241.2" y="288.68" font-size="6.3" text-anchor="end" fill="#222" font-family='"Liberation Sans", sans-serif' font-weight="normal" >40</text>
<line x1="242.5" y1="274.4" x2="244" y2="274.4" stroke="#7a7a7a" stroke-width="1.0"/>
<line x1="241.5" y1="262.32" x2="244" y2="262.32" stroke="#7a7a7a" stroke-width="1.0"/>
<text x="241.2" y="264.52" font-size="6.3" text-anchor="end" fill="#222" font-family='"Liberation Sans", sans-serif' font-weight="normal" >60</text>
<line x1="242.5" y1="250.24" x2="244" y2="250.24" stroke="#7a7a7a" stroke-width="1.0"/>
<line x1="241.5" y1="238.16" x2="244" y2="238.16" stroke="#7a7a7a" stroke-width="1.0"/>
<text x="241.2" y="240.36" font-size="6.3" text-anchor="end" fill="#222" font-family='"Liberation Sans", sans-serif' font-weight="normal" >80</text>
<line x1="242.5" y1="226.08" x2="244" y2="226.08" stroke="#7a7a7a" stroke-width="1.0"/>
<line x1="241.5" y1="214" x2="244" y2="214" stroke="#7a7a7a" stroke-width="1.0"/>
<text x="241.2" y="216.2" font-size="6.3" text-anchor="end" fill="#222" font-family='"Liberation Sans", sans-serif' font-weight="normal" >100</text>
<line x1="256.58" y1="334.8" x2="256.58" y2="337.3" stroke="#7a7a7a" stroke-width="1.0"/>
<text x="256.58" y="343.5" font-size="6.3" text-anchor="middle" fill="#222" font-family='"Liberation Sans", sans-serif' font-weight="normal" >0.8</text>
<line x1="281.73" y1="334.8" x2="281.73" y2="337.3" stroke="#7a7a7a" stroke-width="1.0"/>
<text x="281.73" y="343.5" font-size="6.3" text-anchor="middle" fill="#222" font-family='"Liberation Sans", sans-serif' font-weight="normal" >1.0</text>
<line x1="306.88" y1="334.8" x2="306.88" y2="337.3" stroke="#7a7a7a" stroke-width="1.0"/>
<text x="306.88" y="343.5" font-size="6.3" text-anchor="middle" fill="#222" font-family='"Liberation Sans", sans-serif' font-weight="normal" >1.2</text>
<line x1="332.04" y1="334.8" x2="332.04" y2="337.3" stroke="#7a7a7a" stroke-width="1.0"/>
<text x="332.04" y="343.5" font-size="6.3" text-anchor="middle" fill="#222" font-family='"Liberation Sans", sans-serif' font-weight="normal" >1.4</text>
<line x1="357.19" y1="334.8" x2="357.19" y2="337.3" stroke="#7a7a7a" stroke-width="1.0"/>
<text x="357.19" y="343.5" font-size="6.3" text-anchor="middle" fill="#222" font-family='"Liberation Sans", sans-serif' font-weight="normal" >1.6</text>
<line x1="382.35" y1="334.8" x2="382.35" y2="337.3" stroke="#7a7a7a" stroke-width="1.0"/>
<text x="382.35" y="343.5" font-size="6.3" text-anchor="middle" fill="#222" font-family='"Liberation Sans", sans-serif' font-weight="normal" >1.8</text>
<line x1="407.5" y1="334.8" x2="407.5" y2="337.3" stroke="#7a7a7a" stroke-width="1.0"/>
<text x="407.5" y="343.5" font-size="6.3" text-anchor="middle" fill="#222" font-family='"Liberation Sans", sans-serif' font-weight="normal" >2.0</text>
<line x1="244" y1="334.8" x2="244" y2="336.3" stroke="#7a7a7a" stroke-width="1.0"/>
<line x1="269.15" y1="334.8" x2="269.15" y2="336.3" stroke="#7a7a7a" stroke-width="1.0"/>
<line x1="294.31" y1="334.8" x2="294.31" y2="336.3" stroke="#7a7a7a" stroke-width="1.0"/>
<line x1="319.46" y1="334.8" x2="319.46" y2="336.3" stroke="#7a7a7a" stroke-width="1.0"/>
<line x1="344.62" y1="334.8" x2="344.62" y2="336.3" stroke="#7a7a7a" stroke-width="1.0"/>
<line x1="369.77" y1="334.8" x2="369.77" y2="336.3" stroke="#7a7a7a" stroke-width="1.0"/>
<line x1="394.92" y1="334.8" x2="394.92" y2="336.3" stroke="#7a7a7a" stroke-width="1.0"/>
<text x="218" y="208.6" font-size="10" text-anchor="start" fill="#111" font-family='"Liberation Serif", serif' font-weight="bold" >(d)</text>
<text x="249.5" y="224.1" font-size="6.45" text-anchor="start" fill="#222" font-family='"Liberation Sans", sans-serif' font-weight="normal" >AMA in AMA-eU</text>
<text x="249.5" y="231.9" font-size="6.45" text-anchor="start" fill="#222" font-family='"Liberation Sans", sans-serif' font-weight="normal" >(200–300 ns)</text>
<text x="326.3" y="356" font-size="9.8" text-anchor="middle" fill="#222" font-family='"Liberation Serif", serif' font-weight="normal" >Gyration radius, nm</text>
<text transform="translate(226.4,273) rotate(-90)" font-size="10" text-anchor="middle" fill="#222" font-family='"Liberation Serif", serif'>Number of molecules</text>
<rect x="41.65" y="521.39" width="2.53" height="0.61" fill="url(#hp)" stroke="#f66" stroke-width="0.55"/>
<rect x="44.18" y="520.16" width="2.53" height="1.84" fill="url(#hp)" stroke="#f66" stroke-width="0.55"/>
<rect x="46.72" y="520.78" width="2.53" height="1.22" fill="url(#hp)" stroke="#f66" stroke-width="0.55"/>
<rect x="49.25" y="521.39" width="2.53" height="0.61" fill="url(#hp)" stroke="#f66" stroke-width="0.55"/>
<rect x="51.78" y="517.72" width="2.53" height="4.28" fill="url(#hp)" stroke="#f66" stroke-width="0.55"/>
<rect x="54.31" y="520.16" width="2.53" height="1.84" fill="url(#hp)" stroke="#f66" stroke-width="0.55"/>
<rect x="56.84" y="510.98" width="2.53" height="11.02" fill="url(#hp)" stroke="#f66" stroke-width="0.55"/>
<rect x="59.37" y="493.85" width="2.53" height="28.15" fill="url(#hp)" stroke="#f66" stroke-width="0.55"/>
<rect x="61.9" y="444.28" width="2.53" height="77.72" fill="url(#hp)" stroke="#f66" stroke-width="0.55"/>
<rect x="64.43" y="408.78" width="2.53" height="113.22" fill="url(#hp)" stroke="#f66" stroke-width="0.55"/>
<rect x="66.96" y="414.9" width="2.53" height="107.1" fill="url(#hp)" stroke="#f66" stroke-width="0.55"/>
<rect x="69.49" y="457.13" width="2.53" height="64.87" fill="url(#hp)" stroke="#f66" stroke-width="0.55"/>
<rect x="72.02" y="477.32" width="2.53" height="44.68" fill="url(#hp)" stroke="#f66" stroke-width="0.55"/>
<rect x="74.55" y="470.59" width="2.53" height="51.41" fill="url(#hp)" stroke="#f66" stroke-width="0.55"/>
<rect x="77.08" y="484.67" width="2.53" height="37.33" fill="url(#hp)" stroke="#f66" stroke-width="0.55"/>
<rect x="79.62" y="499.36" width="2.53" height="22.64" fill="url(#hp)" stroke="#f66" stroke-width="0.55"/>
<rect x="82.15" y="513.43" width="2.53" height="8.57" fill="url(#hp)" stroke="#f66" stroke-width="0.55"/>
<rect x="84.68" y="509.76" width="2.53" height="12.24" fill="url(#hp)" stroke="#f66" stroke-width="0.55"/>
<rect x="87.21" y="517.1" width="2.53" height="4.9" fill="url(#hp)" stroke="#f66" stroke-width="0.55"/>
<rect x="89.74" y="518.94" width="2.53" height="3.06" fill="url(#hp)" stroke="#f66" stroke-width="0.55"/>
<rect x="92.27" y="520.78" width="2.53" height="1.22" fill="url(#hp)" stroke="#f66" stroke-width="0.55"/>
<rect x="94.8" y="520.78" width="2.53" height="1.22" fill="url(#hp)" stroke="#f66" stroke-width="0.55"/>
<rect x="97.33" y="521.39" width="2.53" height="0.61" fill="url(#hp)" stroke="#f66" stroke-width="0.55"/>
<rect x="99.86" y="521.39" width="2.53" height="0.61" fill="url(#hp)" stroke="#f66" stroke-width="0.55"/>
<rect x="127.7" y="521.39" width="2.53" height="0.61" fill="url(#hp)" stroke="#f66" stroke-width="0.55"/>
<rect x="137.82" y="521.39" width="2.53" height="0.61" fill="url(#hp)" stroke="#f66" stroke-width="0.55"/>
<rect x="29" y="399.6" width="164.5" height="122.4" fill="none" stroke="#7a7a7a" stroke-width="1"/>
<line x1="26.5" y1="522" x2="29" y2="522" stroke="#7a7a7a" stroke-width="1.0"/>
<text x="26.2" y="524.2" font-size="6.3" text-anchor="end" fill="#222" font-family='"Liberation Sans", sans-serif' font-weight="normal" >0</text>
<line x1="27.5" y1="506.7" x2="29" y2="506.7" stroke="#7a7a7a" stroke-width="1.0"/>
<line x1="26.5" y1="491.4" x2="29" y2="491.4" stroke="#7a7a7a" stroke-width="1.0"/>
<text x="26.2" y="493.6" font-size="6.3" text-anchor="end" fill="#222" font-family='"Liberation Sans", sans-serif' font-weight="normal" >50</text>
<line x1="27.5" y1="476.1" x2="29" y2="476.1" stroke="#7a7a7a" stroke-width="1.0"/>
<line x1="26.5" y1="460.8" x2="29" y2="460.8" stroke="#7a7a7a" stroke-width="1.0"/>
<text x="26.2" y="463" font-size="6.3" text-anchor="end" fill="#222" font-family='"Liberation Sans", sans-serif' font-weight="normal" >100</text>
<line x1="27.5" y1="445.5" x2="29" y2="445.5" stroke="#7a7a7a" stroke-width="1.0"/>
<line x1="26.5" y1="430.2" x2="29" y2="430.2" stroke="#7a7a7a" stroke-width="1.0"/>
<text x="26.2" y="432.4" font-size="6.3" text-anchor="end" fill="#222" font-family='"Liberation Sans", sans-serif' font-weight="normal" >150</text>
<line x1="27.5" y1="414.9" x2="29" y2="414.9" stroke="#7a7a7a" stroke-width="1.0"/>
<line x1="26.5" y1="399.6" x2="29" y2="399.6" stroke="#7a7a7a" stroke-width="1.0"/>
<text x="26.2" y="401.8" font-size="6.3" text-anchor="end" fill="#222" font-family='"Liberation Sans", sans-serif' font-weight="normal" >200</text>
<line x1="41.65" y1="522" x2="41.65" y2="524.5" stroke="#7a7a7a" stroke-width="1.0"/>
<text x="41.65" y="529.8" font-size="6.3" text-anchor="middle" fill="#222" font-family='"Liberation Sans", sans-serif' font-weight="normal" >0.8</text>
<line x1="66.96" y1="522" x2="66.96" y2="524.5" stroke="#7a7a7a" stroke-width="1.0"/>
<text x="66.96" y="529.8" font-size="6.3" text-anchor="middle" fill="#222" font-family='"Liberation Sans", sans-serif' font-weight="normal" >1.0</text>
<line x1="92.27" y1="522" x2="92.27" y2="524.5" stroke="#7a7a7a" stroke-width="1.0"/>
<text x="92.27" y="529.8" font-size="6.3" text-anchor="middle" fill="#222" font-family='"Liberation Sans", sans-serif' font-weight="normal" >1.2</text>
<line x1="117.58" y1="522" x2="117.58" y2="524.5" stroke="#7a7a7a" stroke-width="1.0"/>
<text x="117.58" y="529.8" font-size="6.3" text-anchor="middle" fill="#222" font-family='"Liberation Sans", sans-serif' font-weight="normal" >1.4</text>
<line x1="142.88" y1="522" x2="142.88" y2="524.5" stroke="#7a7a7a" stroke-width="1.0"/>
<text x="142.88" y="529.8" font-size="6.3" text-anchor="middle" fill="#222" font-family='"Liberation Sans", sans-serif' font-weight="normal" >1.6</text>
<line x1="168.19" y1="522" x2="168.19" y2="524.5" stroke="#7a7a7a" stroke-width="1.0"/>
<text x="168.19" y="529.8" font-size="6.3" text-anchor="middle" fill="#222" font-family='"Liberation Sans", sans-serif' font-weight="normal" >1.8</text>
<line x1="193.5" y1="522" x2="193.5" y2="524.5" stroke="#7a7a7a" stroke-width="1.0"/>
<text x="193.5" y="529.8" font-size="6.3" text-anchor="middle" fill="#222" font-family='"Liberation Sans", sans-serif' font-weight="normal" >2.0</text>
<line x1="29" y1="522" x2="29" y2="523.5" stroke="#7a7a7a" stroke-width="1.0"/>
<line x1="54.31" y1="522" x2="54.31" y2="523.5" stroke="#7a7a7a" stroke-width="1.0"/>
<line x1="79.62" y1="522" x2="79.62" y2="523.5" stroke="#7a7a7a" stroke-width="1.0"/>
<line x1="104.92" y1="522" x2="104.92" y2="523.5" stroke="#7a7a7a" stroke-width="1.0"/>
<line x1="130.23" y1="522" x2="130.23" y2="523.5" stroke="#7a7a7a" stroke-width="1.0"/>
<line x1="155.54" y1="522" x2="155.54" y2="523.5" stroke="#7a7a7a" stroke-width="1.0"/>
<line x1="180.85" y1="522" x2="180.85" y2="523.5" stroke="#7a7a7a" stroke-width="1.0"/>
<text x="4.6" y="394.4" font-size="10" text-anchor="start" fill="#111" font-family='"Liberation Serif", serif' font-weight="bold" >(e)</text>
<text x="138" y="412.9" font-size="6.45" text-anchor="start" fill="#222" font-family='"Liberation Sans", sans-serif' font-weight="normal" >AMA in AMA-sZ</text>
<text x="138" y="420.4" font-size="6.45" text-anchor="start" fill="#222" font-family='"Liberation Sans", sans-serif' font-weight="normal" >(200–300 ns)</text>
<text x="112.5" y="542.6" font-size="9.8" text-anchor="middle" fill="#222" font-family='"Liberation Serif", serif' font-weight="normal" >Gyration radius, nm</text>
<text transform="translate(12.9,461.3) rotate(-90)" font-size="9.6" text-anchor="middle" fill="#222" font-family='"Liberation Serif", serif'>Number of molecules</text>
<rect x="249.36" y="520.22" width="2.59" height="2.07" fill="url(#hp)" stroke="#f66" stroke-width="0.55"/>
<rect x="251.95" y="518.15" width="2.59" height="4.15" fill="url(#hp)" stroke="#f66" stroke-width="0.55"/>
<rect x="254.54" y="516.07" width="2.59" height="6.22" fill="url(#hp)" stroke="#f66" stroke-width="0.55"/>
<rect x="257.12" y="520.22" width="2.59" height="2.07" fill="url(#hp)" stroke="#f66" stroke-width="0.55"/>
<rect x="259.71" y="520.22" width="2.59" height="2.07" fill="url(#hp)" stroke="#f66" stroke-width="0.55"/>
<rect x="262.3" y="518.15" width="2.59" height="4.15" fill="url(#hp)" stroke="#f66" stroke-width="0.55"/>
<rect x="293.37" y="520.22" width="2.59" height="2.07" fill="url(#hp)" stroke="#f66" stroke-width="0.55"/>
<rect x="295.96" y="514" width="2.59" height="8.3" fill="url(#hp)" stroke="#f66" stroke-width="0.55"/>
<rect x="298.55" y="516.07" width="2.59" height="6.22" fill="url(#hp)" stroke="#f66" stroke-width="0.55"/>
<rect x="301.14" y="514" width="2.59" height="8.3" fill="url(#hp)" stroke="#f66" stroke-width="0.55"/>
<rect x="303.73" y="511.92" width="2.59" height="10.37" fill="url(#hp)" stroke="#f66" stroke-width="0.55"/>
<rect x="306.32" y="514" width="2.59" height="8.3" fill="url(#hp)" stroke="#f66" stroke-width="0.55"/>
<rect x="308.91" y="511.92" width="2.59" height="10.37" fill="url(#hp)" stroke="#f66" stroke-width="0.55"/>
<rect x="311.5" y="499.47" width="2.59" height="22.82" fill="url(#hp)" stroke="#f66" stroke-width="0.55"/>
<rect x="314.09" y="503.62" width="2.59" height="18.67" fill="url(#hp)" stroke="#f66" stroke-width="0.55"/>
<rect x="316.68" y="505.7" width="2.59" height="16.6" fill="url(#hp)" stroke="#f66" stroke-width="0.55"/>
<rect x="319.27" y="497.4" width="2.59" height="24.9" fill="url(#hp)" stroke="#f66" stroke-width="0.55"/>
<rect x="321.86" y="482.88" width="2.59" height="39.42" fill="url(#hp)" stroke="#f66" stroke-width="0.55"/>
<rect x="324.44" y="468.35" width="2.59" height="53.95" fill="url(#hp)" stroke="#f66" stroke-width="0.55"/>
<rect x="327.03" y="487.02" width="2.59" height="35.27" fill="url(#hp)" stroke="#f66" stroke-width="0.55"/>
<rect x="329.62" y="445.52" width="2.59" height="76.77" fill="url(#hp)" stroke="#f66" stroke-width="0.55"/>
<rect x="332.21" y="420.62" width="2.59" height="101.67" fill="url(#hp)" stroke="#f66" stroke-width="0.55"/>
<rect x="334.8" y="414.4" width="2.59" height="107.9" fill="url(#hp)" stroke="#f66" stroke-width="0.55"/>
<rect x="337.39" y="426.85" width="2.59" height="95.45" fill="url(#hp)" stroke="#f66" stroke-width="0.55"/>
<rect x="339.98" y="445.52" width="2.59" height="76.77" fill="url(#hp)" stroke="#f66" stroke-width="0.55"/>
<rect x="342.57" y="447.6" width="2.59" height="74.7" fill="url(#hp)" stroke="#f66" stroke-width="0.55"/>
<rect x="345.16" y="449.68" width="2.59" height="72.62" fill="url(#hp)" stroke="#f66" stroke-width="0.55"/>
<rect x="347.75" y="464.2" width="2.59" height="58.1" fill="url(#hp)" stroke="#f66" stroke-width="0.55"/>
<rect x="350.34" y="493.25" width="2.59" height="29.05" fill="url(#hp)" stroke="#f66" stroke-width="0.55"/>
<rect x="352.93" y="495.32" width="2.59" height="26.97" fill="url(#hp)" stroke="#f66" stroke-width="0.55"/>
<rect x="355.52" y="509.85" width="2.59" height="12.45" fill="url(#hp)" stroke="#f66" stroke-width="0.55"/>
<rect x="358.1" y="511.92" width="2.59" height="10.37" fill="url(#hp)" stroke="#f66" stroke-width="0.55"/>
<rect x="360.69" y="518.15" width="2.59" height="4.15" fill="url(#hp)" stroke="#f66" stroke-width="0.55"/>
<rect x="365.87" y="520.22" width="2.59" height="2.07" fill="url(#hp)" stroke="#f66" stroke-width="0.55"/>
<rect x="368.46" y="518.15" width="2.59" height="4.15" fill="url(#hp)" stroke="#f66" stroke-width="0.55"/>
<rect x="239" y="397.8" width="168.3" height="124.5" fill="none" stroke="#7a7a7a" stroke-width="1"/>
<line x1="236.5" y1="522.3" x2="239" y2="522.3" stroke="#7a7a7a" stroke-width="1.0"/>
<text x="236.2" y="524.5" font-size="6.3" text-anchor="end" fill="#222" font-family='"Liberation Sans", sans-serif' font-weight="normal" >0</text>
<line x1="237.5" y1="511.92" x2="239" y2="511.92" stroke="#7a7a7a" stroke-width="1.0"/>
<line x1="236.5" y1="501.55" x2="239" y2="501.55" stroke="#7a7a7a" stroke-width="1.0"/>
<text x="236.2" y="503.75" font-size="6.3" text-anchor="end" fill="#222" font-family='"Liberation Sans", sans-serif' font-weight="normal" >10</text>
<line x1="237.5" y1="491.17" x2="239" y2="491.17" stroke="#7a7a7a" stroke-width="1.0"/>
<line x1="236.5" y1="480.8" x2="239" y2="480.8" stroke="#7a7a7a" stroke-width="1.0"/>
<text x="236.2" y="483" font-size="6.3" text-anchor="end" fill="#222" font-family='"Liberation Sans", sans-serif' font-weight="normal" >20</text>
<line x1="237.5" y1="470.42" x2="239" y2="470.42" stroke="#7a7a7a" stroke-width="1.0"/>
<line x1="236.5" y1="460.05" x2="239" y2="460.05" stroke="#7a7a7a" stroke-width="1.0"/>
<text x="236.2" y="462.25" font-size="6.3" text-anchor="end" fill="#222" font-family='"Liberation Sans", sans-serif' font-weight="normal" >30</text>
<line x1="237.5" y1="449.68" x2="239" y2="449.68" stroke="#7a7a7a" stroke-width="1.0"/>
<line x1="236.5" y1="439.3" x2="239" y2="439.3" stroke="#7a7a7a" stroke-width="1.0"/>
<text x="236.2" y="441.5" font-size="6.3" text-anchor="end" fill="#222" font-family='"Liberation Sans", sans-serif' font-weight="normal" >40</text>
<line x1="237.5" y1="428.93" x2="239" y2="428.93" stroke="#7a7a7a" stroke-width="1.0"/>
<line x1="236.5" y1="418.55" x2="239" y2="418.55" stroke="#7a7a7a" stroke-width="1.0"/>
<text x="236.2" y="420.75" font-size="6.3" text-anchor="end" fill="#222" font-family='"Liberation Sans", sans-serif' font-weight="normal" >50</text>
<line x1="237.5" y1="408.18" x2="239" y2="408.18" stroke="#7a7a7a" stroke-width="1.0"/>
<line x1="236.5" y1="397.8" x2="239" y2="397.8" stroke="#7a7a7a" stroke-width="1.0"/>
<text x="236.2" y="400" font-size="6.3" text-anchor="end" fill="#222" font-family='"Liberation Sans", sans-serif' font-weight="normal" >60</text>
<line x1="251.95" y1="522.3" x2="251.95" y2="524.8" stroke="#7a7a7a" stroke-width="1.0"/>
<text x="251.95" y="531" font-size="6.3" text-anchor="middle" fill="#222" font-family='"Liberation Sans", sans-serif' font-weight="normal" >0.8</text>
<line x1="277.84" y1="522.3" x2="277.84" y2="524.8" stroke="#7a7a7a" stroke-width="1.0"/>
<text x="277.84" y="531" font-size="6.3" text-anchor="middle" fill="#222" font-family='"Liberation Sans", sans-serif' font-weight="normal" >1.0</text>
<line x1="303.73" y1="522.3" x2="303.73" y2="524.8" stroke="#7a7a7a" stroke-width="1.0"/>
<text x="303.73" y="531" font-size="6.3" text-anchor="middle" fill="#222" font-family='"Liberation Sans", sans-serif' font-weight="normal" >1.2</text>
<line x1="329.62" y1="522.3" x2="329.62" y2="524.8" stroke="#7a7a7a" stroke-width="1.0"/>
<text x="329.62" y="531" font-size="6.3" text-anchor="middle" fill="#222" font-family='"Liberation Sans", sans-serif' font-weight="normal" >1.4</text>
<line x1="355.52" y1="522.3" x2="355.52" y2="524.8" stroke="#7a7a7a" stroke-width="1.0"/>
<text x="355.52" y="531" font-size="6.3" text-anchor="middle" fill="#222" font-family='"Liberation Sans", sans-serif' font-weight="normal" >1.6</text>
<line x1="381.41" y1="522.3" x2="381.41" y2="524.8" stroke="#7a7a7a" stroke-width="1.0"/>
<text x="381.41" y="531" font-size="6.3" text-anchor="middle" fill="#222" font-family='"Liberation Sans", sans-serif' font-weight="normal" >1.8</text>
<line x1="407.3" y1="522.3" x2="407.3" y2="524.8" stroke="#7a7a7a" stroke-width="1.0"/>
<text x="407.3" y="531" font-size="6.3" text-anchor="middle" fill="#222" font-family='"Liberation Sans", sans-serif' font-weight="normal" >2.0</text>
<line x1="239" y1="522.3" x2="239" y2="523.8" stroke="#7a7a7a" stroke-width="1.0"/>
<line x1="264.89" y1="522.3" x2="264.89" y2="523.8" stroke="#7a7a7a" stroke-width="1.0"/>
<line x1="290.78" y1="522.3" x2="290.78" y2="523.8" stroke="#7a7a7a" stroke-width="1.0"/>
<line x1="316.68" y1="522.3" x2="316.68" y2="523.8" stroke="#7a7a7a" stroke-width="1.0"/>
<line x1="342.57" y1="522.3" x2="342.57" y2="523.8" stroke="#7a7a7a" stroke-width="1.0"/>
<line x1="368.46" y1="522.3" x2="368.46" y2="523.8" stroke="#7a7a7a" stroke-width="1.0"/>
<line x1="394.35" y1="522.3" x2="394.35" y2="523.8" stroke="#7a7a7a" stroke-width="1.0"/>
<text x="217.8" y="392.8" font-size="10" text-anchor="start" fill="#111" font-family='"Liberation Serif", serif' font-weight="bold" >(f)</text>
<text x="245.3" y="407.4" font-size="6.45" text-anchor="start" fill="#222" font-family='"Liberation Sans", sans-serif' font-weight="normal" >AMA in Mixed50%(eU-W-W)</text>
<text x="245.3" y="415" font-size="6.45" text-anchor="start" fill="#222" font-family='"Liberation Sans", sans-serif' font-weight="normal" >(200–300 ns)</text>
<text x="323.5" y="543.9" font-size="9.8" text-anchor="middle" fill="#222" font-family='"Liberation Serif", serif' font-weight="normal" >Gyration radius, nm</text>
<text transform="translate(225.8,459.8) rotate(-90)" font-size="9.6" text-anchor="middle" fill="#222" font-family='"Liberation Serif", serif'>Number of molecules</text>
</svg>
</body></html>
